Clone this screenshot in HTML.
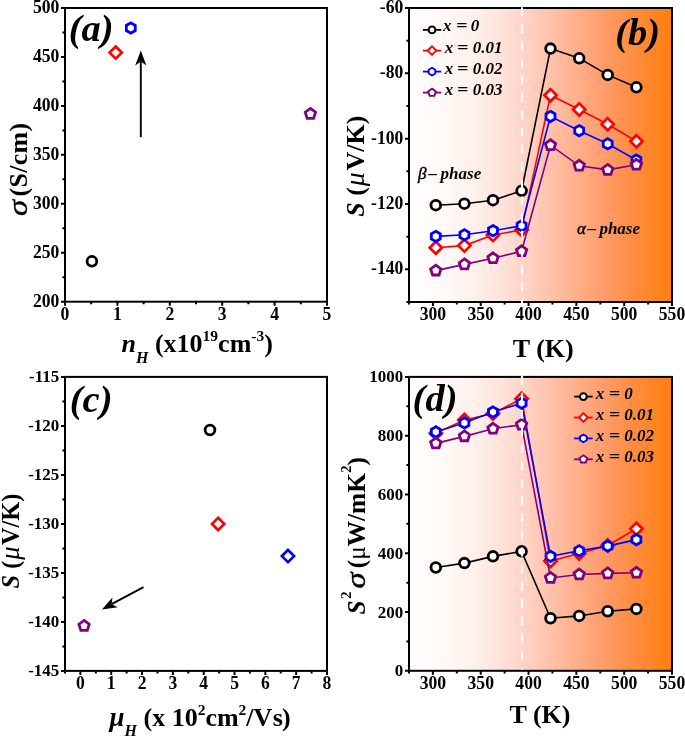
<!DOCTYPE html>
<html lang="en"><head><meta charset="utf-8"><title>Figure</title>
<style>
html,body{margin:0;padding:0;background:#fff;}
svg{display:block;}
text{font-family:"Liberation Serif","DejaVu Serif",serif;font-weight:bold;fill:#000;}
.tk{font-size:17.6px;}
.lab{font-size:26px;}
.it{font-style:italic;}
.pl{font-size:38.5px;font-style:italic;}
.lg{font-size:17px;font-style:italic;}
.ph{font-size:17px;font-style:italic;}
</style></head><body>
<svg width="685" height="737" viewBox="0 0 685 737">
<defs>
<linearGradient id="g" x1="0" y1="0" x2="1" y2="0">
<stop offset="0" stop-color="#ffffff"/>
<stop offset="0.05" stop-color="#fffdfc"/>
<stop offset="0.15" stop-color="#fff8f5"/>
<stop offset="0.25" stop-color="#fff0eb"/>
<stop offset="0.35" stop-color="#ffe3db"/>
<stop offset="0.46" stop-color="#ffd0c1"/>
<stop offset="0.59" stop-color="#ffb89a"/>
<stop offset="0.73" stop-color="#ff9e6e"/>
<stop offset="0.84" stop-color="#ff8e45"/>
<stop offset="0.96" stop-color="#ff821b"/>
<stop offset="1" stop-color="#ff7e0e"/>
</linearGradient>
</defs>
<rect width="685" height="737" fill="#fff"/>
<g id="pa">
<rect x="65" y="8" width="262" height="293.7" fill="none" stroke="#000" stroke-width="2"/>
<path d="M65 301.7v4M117.4 301.7v4M169.8 301.7v4M222.2 301.7v4M274.6 301.7v4M327 301.7v4M91.2 301.7v2.6M143.6 301.7v2.6M196 301.7v2.6M248.4 301.7v2.6M300.8 301.7v2.6" stroke="#000" stroke-width="2" fill="none"/>
<text transform="translate(65,320.1) scale(1,1.04)" text-anchor="middle" class="tk">0</text>
<text transform="translate(117.4,320.1) scale(1,1.04)" text-anchor="middle" class="tk">1</text>
<text transform="translate(169.8,320.1) scale(1,1.04)" text-anchor="middle" class="tk">2</text>
<text transform="translate(222.2,320.1) scale(1,1.04)" text-anchor="middle" class="tk">3</text>
<text transform="translate(274.6,320.1) scale(1,1.04)" text-anchor="middle" class="tk">4</text>
<text transform="translate(327,320.1) scale(1,1.04)" text-anchor="middle" class="tk">5</text>
<path d="M65 301.7h-4M65 252.75h-4M65 203.8h-4M65 154.85h-4M65 105.9h-4M65 56.95h-4M65 8h-4M65 277.22h-2.6M65 228.27h-2.6M65 179.32h-2.6M65 130.38h-2.6M65 81.42h-2.6M65 32.47h-2.6" stroke="#000" stroke-width="2" fill="none"/>
<text transform="translate(59.3,306.7) scale(1,1.04)" text-anchor="end" class="tk">200</text>
<text transform="translate(59.3,257.75) scale(1,1.04)" text-anchor="end" class="tk">250</text>
<text transform="translate(59.3,208.8) scale(1,1.04)" text-anchor="end" class="tk">300</text>
<text transform="translate(59.3,159.85) scale(1,1.04)" text-anchor="end" class="tk">350</text>
<text transform="translate(59.3,110.9) scale(1,1.04)" text-anchor="end" class="tk">400</text>
<text transform="translate(59.3,61.95) scale(1,1.04)" text-anchor="end" class="tk">450</text>
<text transform="translate(59.3,13) scale(1,1.04)" text-anchor="end" class="tk">500</text>
<circle cx="91.9" cy="261.3" r="4.85" fill="none" stroke="#000" stroke-width="2.8"/>
<polygon points="115.7,46.5 121.8,52.6 115.7,58.7 109.6,52.6" fill="none" stroke="#ff0000" stroke-width="2.7" stroke-linejoin="miter"/>
<polygon points="130.8,22.85 135.26,25.43 135.26,30.57 130.8,33.15 126.34,30.58 126.34,25.43" fill="none" stroke="#0000ff" stroke-width="2.8" stroke-linejoin="miter"/>
<polygon points="310.4,108.45 315.58,112.22 313.6,118.31 307.2,118.31 305.22,112.22" fill="none" stroke="#800080" stroke-width="2.8" stroke-linejoin="miter"/>
<line x1="140.8" y1="137.2" x2="140.8" y2="61.5" stroke="#000" stroke-width="1.9"/>
<polygon points="140.8,50.5 146.4,65.5 140.8,61.5 135.2,65.5" fill="#000"/>
<text x="68.8" y="41.3" class="pl">(a)</text>
<text transform="translate(26.9,215.9) rotate(-90) scale(1.2,1)" class="lab it" style="font-weight:normal;font-size:27px" stroke="#000" stroke-width="0.4">σ</text>
<text transform="translate(26.9,215.9) rotate(-90)" class="lab" letter-spacing="0.3"><tspan x="19.4">(S/cm)</tspan></text>
<text x="121.5" y="352.0" class="lab"><tspan class="it">n</tspan><tspan class="it" font-size="16" dy="10.6">H</tspan><tspan dy="-10.6"> (x10</tspan><tspan font-size="15.5" dy="-11">19</tspan><tspan dy="11">cm</tspan><tspan font-size="15.5" dy="-11">-3</tspan><tspan dy="11">)</tspan></text>
</g>
<g id="pb">
<rect x="409" y="8" width="263" height="294" fill="url(#g)" stroke="#000" stroke-width="2"/>
<path d="M432.91 302v4M480.73 302v4M528.55 302v4M576.36 302v4M624.18 302v4M672 302v4M409 302v2.6M456.82 302v2.6M504.64 302v2.6M552.45 302v2.6M600.27 302v2.6M648.09 302v2.6" stroke="#000" stroke-width="2" fill="none"/>
<text transform="translate(432.91,320.4) scale(1,1.04)" text-anchor="middle" class="tk">300</text>
<text transform="translate(480.73,320.4) scale(1,1.04)" text-anchor="middle" class="tk">350</text>
<text transform="translate(528.55,320.4) scale(1,1.04)" text-anchor="middle" class="tk">400</text>
<text transform="translate(576.36,320.4) scale(1,1.04)" text-anchor="middle" class="tk">450</text>
<text transform="translate(624.18,320.4) scale(1,1.04)" text-anchor="middle" class="tk">500</text>
<text transform="translate(672,320.4) scale(1,1.04)" text-anchor="middle" class="tk">550</text>
<path d="M409 269.33h-4M409 204h-4M409 138.67h-4M409 73.33h-4M409 8h-4M409 302h-2.6M409 236.67h-2.6M409 171.33h-2.6M409 106h-2.6M409 40.67h-2.6" stroke="#000" stroke-width="2" fill="none"/>
<text transform="translate(403.3,274.33) scale(1,1.04)" text-anchor="end" class="tk">-140</text>
<text transform="translate(403.3,209) scale(1,1.04)" text-anchor="end" class="tk">-120</text>
<text transform="translate(403.3,143.67) scale(1,1.04)" text-anchor="end" class="tk">-100</text>
<text transform="translate(403.3,78.33) scale(1,1.04)" text-anchor="end" class="tk">-80</text>
<text transform="translate(403.3,13) scale(1,1.04)" text-anchor="end" class="tk">-60</text>
<polyline points="435.8,205.2 464.4,203.7 493,200.2 521.6,190.8 550.5,48.6 579.2,58.3 607.7,74.9 636.4,87.3" fill="none" stroke="#000" stroke-width="1.6"/>
<circle cx="435.8" cy="205.2" r="4.85" fill="#fff" stroke="#000" stroke-width="2.8"/>
<circle cx="464.4" cy="203.7" r="4.85" fill="#fff" stroke="#000" stroke-width="2.8"/>
<circle cx="493" cy="200.2" r="4.85" fill="#fff" stroke="#000" stroke-width="2.8"/>
<circle cx="521.6" cy="190.8" r="4.85" fill="#fff" stroke="#000" stroke-width="2.8"/>
<circle cx="550.5" cy="48.6" r="4.85" fill="#fff" stroke="#000" stroke-width="2.8"/>
<circle cx="579.2" cy="58.3" r="4.85" fill="#fff" stroke="#000" stroke-width="2.8"/>
<circle cx="607.7" cy="74.9" r="4.85" fill="#fff" stroke="#000" stroke-width="2.8"/>
<circle cx="636.4" cy="87.3" r="4.85" fill="#fff" stroke="#000" stroke-width="2.8"/>
<polyline points="435.8,247.7 464.4,245.6 493,235 521.6,229.9 550.5,95.2 579.2,109.5 607.7,124.2 636.4,141.3" fill="none" stroke="#ff0000" stroke-width="1.6"/>
<polygon points="435.8,241.6 441.9,247.7 435.8,253.8 429.7,247.7" fill="#fff" stroke="#ff0000" stroke-width="2.7" stroke-linejoin="miter"/>
<polygon points="464.4,239.5 470.5,245.6 464.4,251.7 458.3,245.6" fill="#fff" stroke="#ff0000" stroke-width="2.7" stroke-linejoin="miter"/>
<polygon points="493,228.9 499.1,235 493,241.1 486.9,235" fill="#fff" stroke="#ff0000" stroke-width="2.7" stroke-linejoin="miter"/>
<polygon points="521.6,223.8 527.7,229.9 521.6,236 515.5,229.9" fill="#fff" stroke="#ff0000" stroke-width="2.7" stroke-linejoin="miter"/>
<polygon points="550.5,89.1 556.6,95.2 550.5,101.3 544.4,95.2" fill="#fff" stroke="#ff0000" stroke-width="2.7" stroke-linejoin="miter"/>
<polygon points="579.2,103.4 585.3,109.5 579.2,115.6 573.1,109.5" fill="#fff" stroke="#ff0000" stroke-width="2.7" stroke-linejoin="miter"/>
<polygon points="607.7,118.1 613.8,124.2 607.7,130.3 601.6,124.2" fill="#fff" stroke="#ff0000" stroke-width="2.7" stroke-linejoin="miter"/>
<polygon points="636.4,135.2 642.5,141.3 636.4,147.4 630.3,141.3" fill="#fff" stroke="#ff0000" stroke-width="2.7" stroke-linejoin="miter"/>
<polyline points="435.8,236.4 464.4,234.8 493,230.7 521.6,225.8 550.5,116.4 579.2,130.7 607.7,143.8 636.4,160" fill="none" stroke="#0000ff" stroke-width="1.6"/>
<polygon points="435.8,231.25 440.26,233.83 440.26,238.97 435.8,241.55 431.34,238.97 431.34,233.83" fill="#fff" stroke="#0000ff" stroke-width="2.8" stroke-linejoin="miter"/>
<polygon points="464.4,229.65 468.86,232.23 468.86,237.38 464.4,239.95 459.94,237.38 459.94,232.23" fill="#fff" stroke="#0000ff" stroke-width="2.8" stroke-linejoin="miter"/>
<polygon points="493,225.55 497.46,228.12 497.46,233.27 493,235.85 488.54,233.27 488.54,228.12" fill="#fff" stroke="#0000ff" stroke-width="2.8" stroke-linejoin="miter"/>
<polygon points="521.6,220.65 526.06,223.23 526.06,228.38 521.6,230.95 517.14,228.38 517.14,223.23" fill="#fff" stroke="#0000ff" stroke-width="2.8" stroke-linejoin="miter"/>
<polygon points="550.5,111.25 554.96,113.83 554.96,118.98 550.5,121.55 546.04,118.98 546.04,113.83" fill="#fff" stroke="#0000ff" stroke-width="2.8" stroke-linejoin="miter"/>
<polygon points="579.2,125.55 583.66,128.12 583.66,133.27 579.2,135.85 574.74,133.27 574.74,128.12" fill="#fff" stroke="#0000ff" stroke-width="2.8" stroke-linejoin="miter"/>
<polygon points="607.7,138.65 612.16,141.23 612.16,146.38 607.7,148.95 603.24,146.38 603.24,141.23" fill="#fff" stroke="#0000ff" stroke-width="2.8" stroke-linejoin="miter"/>
<polygon points="636.4,154.85 640.86,157.43 640.86,162.57 636.4,165.15 631.94,162.57 631.94,157.43" fill="#fff" stroke="#0000ff" stroke-width="2.8" stroke-linejoin="miter"/>
<polyline points="435.8,270.6 464.4,264.4 493,258.3 521.6,251.3 550.5,145.2 579.2,165.8 607.7,169.9 636.4,164.8" fill="none" stroke="#800080" stroke-width="1.6"/>
<polygon points="435.8,265.15 440.98,268.92 439,275.01 432.6,275.01 430.62,268.92" fill="#fff" stroke="#800080" stroke-width="2.8" stroke-linejoin="miter"/>
<polygon points="464.4,258.95 469.58,262.72 467.6,268.81 461.2,268.81 459.22,262.72" fill="#fff" stroke="#800080" stroke-width="2.8" stroke-linejoin="miter"/>
<polygon points="493,252.85 498.18,256.62 496.2,262.71 489.8,262.71 487.82,256.62" fill="#fff" stroke="#800080" stroke-width="2.8" stroke-linejoin="miter"/>
<polygon points="521.6,245.85 526.78,249.62 524.8,255.71 518.4,255.71 516.42,249.62" fill="#fff" stroke="#800080" stroke-width="2.8" stroke-linejoin="miter"/>
<polygon points="550.5,139.75 555.68,143.52 553.7,149.61 547.3,149.61 545.32,143.52" fill="#fff" stroke="#800080" stroke-width="2.8" stroke-linejoin="miter"/>
<polygon points="579.2,160.35 584.38,164.12 582.4,170.21 576,170.21 574.02,164.12" fill="#fff" stroke="#800080" stroke-width="2.8" stroke-linejoin="miter"/>
<polygon points="607.7,164.45 612.88,168.22 610.9,174.31 604.5,174.31 602.52,168.22" fill="#fff" stroke="#800080" stroke-width="2.8" stroke-linejoin="miter"/>
<polygon points="636.4,159.35 641.58,163.12 639.6,169.21 633.2,169.21 631.22,163.12" fill="#fff" stroke="#800080" stroke-width="2.8" stroke-linejoin="miter"/>
<line x1="522" y1="7.2" x2="522" y2="303.2" stroke="#fff" stroke-width="2.1" stroke-dasharray="8.8 8.4"/>
<line x1="422.9" y1="29.9" x2="441.3" y2="29.9" stroke="#000" stroke-width="1.8"/>
<circle cx="432" cy="29.9" r="3.4" fill="#fff" stroke="#000" stroke-width="2"/>
<text y="30.9" class="lg"><tspan x="443">x</tspan><tspan x="456" textLength="11.4" lengthAdjust="spacingAndGlyphs">=</tspan><tspan x="470.7">0</tspan></text>
<line x1="422.9" y1="50.6" x2="441.3" y2="50.6" stroke="#ff0000" stroke-width="1.8"/>
<polygon points="432,46.3 436.3,50.6 432,54.9 427.7,50.6" fill="#fff" stroke="#ff0000" stroke-width="1.9" stroke-linejoin="miter"/>
<text y="53.4" class="lg"><tspan x="444.8">x</tspan><tspan x="456.9" textLength="11.4" lengthAdjust="spacingAndGlyphs">=</tspan><tspan x="472.8">0.01</tspan></text>
<line x1="422.9" y1="71.6" x2="441.3" y2="71.6" stroke="#0000ff" stroke-width="1.8"/>
<polygon points="432,67.8 435.29,69.7 435.29,73.5 432,75.4 428.71,73.5 428.71,69.7" fill="#fff" stroke="#0000ff" stroke-width="1.9" stroke-linejoin="miter"/>
<text y="74.4" class="lg"><tspan x="444.8">x</tspan><tspan x="456.9" textLength="11.4" lengthAdjust="spacingAndGlyphs">=</tspan><tspan x="472.8">0.02</tspan></text>
<line x1="422.9" y1="92.6" x2="441.3" y2="92.6" stroke="#800080" stroke-width="1.8"/>
<polygon points="432,88.6 435.8,91.36 434.35,95.84 429.65,95.84 428.2,91.36" fill="#fff" stroke="#800080" stroke-width="1.9" stroke-linejoin="miter"/>
<text y="95.3" class="lg"><tspan x="444.8">x</tspan><tspan x="456.9" textLength="11.4" lengthAdjust="spacingAndGlyphs">=</tspan><tspan x="472.8">0.03</tspan></text>
<text x="615.3" y="44.9" class="pl">(b)</text>
<text y="179.4" class="ph"><tspan x="418" font-weight="normal" stroke="#000" stroke-width="0.45">β</tspan><tspan x="428.6">–</tspan><tspan x="440.6">phase</tspan></text>
<text y="234.0" class="ph"><tspan x="577" font-weight="normal" stroke="#000" stroke-width="0.45">α</tspan><tspan x="587.6">–</tspan><tspan x="599.4">phase</tspan></text>
<text transform="translate(364.0,216.8) rotate(-90)" class="lab"><tspan class="it" x="0">S</tspan><tspan x="21">(</tspan><tspan class="it" font-weight="normal" font-size="28" x="30.6">μ</tspan><tspan x="46.4">V/K)</tspan></text>
<text x="543.3" y="356.8" text-anchor="middle" class="lab">T (K)</text>
</g>
<g id="pc">
<rect x="65" y="376.9" width="262" height="294" fill="none" stroke="#000" stroke-width="2"/>
<path d="M80.41 670.9v4M111.24 670.9v4M142.06 670.9v4M172.88 670.9v4M203.71 670.9v4M234.53 670.9v4M265.35 670.9v4M296.18 670.9v4M327 670.9v4M65 670.9v2.6M95.82 670.9v2.6M126.65 670.9v2.6M157.47 670.9v2.6M188.29 670.9v2.6M219.12 670.9v2.6M249.94 670.9v2.6M280.76 670.9v2.6M311.59 670.9v2.6" stroke="#000" stroke-width="2" fill="none"/>
<text transform="translate(80.41,689.3) scale(1,1.04)" text-anchor="middle" class="tk">0</text>
<text transform="translate(111.24,689.3) scale(1,1.04)" text-anchor="middle" class="tk">1</text>
<text transform="translate(142.06,689.3) scale(1,1.04)" text-anchor="middle" class="tk">2</text>
<text transform="translate(172.88,689.3) scale(1,1.04)" text-anchor="middle" class="tk">3</text>
<text transform="translate(203.71,689.3) scale(1,1.04)" text-anchor="middle" class="tk">4</text>
<text transform="translate(234.53,689.3) scale(1,1.04)" text-anchor="middle" class="tk">5</text>
<text transform="translate(265.35,689.3) scale(1,1.04)" text-anchor="middle" class="tk">6</text>
<text transform="translate(296.18,689.3) scale(1,1.04)" text-anchor="middle" class="tk">7</text>
<text transform="translate(327,689.3) scale(1,1.04)" text-anchor="middle" class="tk">8</text>
<path d="M65 670.9h-4M65 621.9h-4M65 572.9h-4M65 523.9h-4M65 474.9h-4M65 425.9h-4M65 376.9h-4M65 646.4h-2.6M65 597.4h-2.6M65 548.4h-2.6M65 499.4h-2.6M65 450.4h-2.6M65 401.4h-2.6" stroke="#000" stroke-width="2" fill="none"/>
<text transform="translate(59.3,676.2) scale(1,1.04)" text-anchor="end" class="tk" style="font-size:17px">-145</text>
<text transform="translate(59.3,627.2) scale(1,1.04)" text-anchor="end" class="tk" style="font-size:17px">-140</text>
<text transform="translate(59.3,578.2) scale(1,1.04)" text-anchor="end" class="tk" style="font-size:17px">-135</text>
<text transform="translate(59.3,529.2) scale(1,1.04)" text-anchor="end" class="tk" style="font-size:17px">-130</text>
<text transform="translate(59.3,480.2) scale(1,1.04)" text-anchor="end" class="tk" style="font-size:17px">-125</text>
<text transform="translate(59.3,431.2) scale(1,1.04)" text-anchor="end" class="tk" style="font-size:17px">-120</text>
<text transform="translate(59.3,382.2) scale(1,1.04)" text-anchor="end" class="tk" style="font-size:17px">-115</text>
<circle cx="210" cy="430" r="4.85" fill="none" stroke="#000" stroke-width="2.8"/>
<polygon points="218.1,517.8 224.2,523.9 218.1,530 212,523.9" fill="none" stroke="#ff0000" stroke-width="2.7" stroke-linejoin="miter"/>
<polygon points="288,550 294.1,556.1 288,562.2 281.9,556.1" fill="none" stroke="#0000ff" stroke-width="2.7" stroke-linejoin="miter"/>
<polygon points="84.1,620.45 89.28,624.22 87.3,630.31 80.9,630.31 78.92,624.22" fill="none" stroke="#800080" stroke-width="2.8" stroke-linejoin="miter"/>
<line x1="143.5" y1="587.1" x2="111.59" y2="604.2" stroke="#000" stroke-width="1.9"/>
<polygon points="101.9,609.4 112.47,597.38 111.59,604.2 117.77,607.25" fill="#000"/>
<text x="69.8" y="412.3" class="pl">(c)</text>
<text transform="translate(19.2,588.4) rotate(-90)" class="lab" style="font-size:24.3px"><tspan class="it" x="0">S</tspan><tspan x="19.7">(</tspan><tspan class="it" font-weight="normal" font-size="26.5" x="28.6">μ</tspan><tspan x="43.4">V/K)</tspan></text>
<text x="109.5" y="725.7" class="lab"><tspan class="it" font-size="27">μ</tspan><tspan class="it" font-size="16" dy="10.2">H</tspan><tspan dy="-10.2"> (x 10</tspan><tspan font-size="15.5" dy="-11">2</tspan><tspan dy="11">cm</tspan><tspan font-size="15.5" dy="-11">2</tspan><tspan dy="11">/V</tspan><tspan dx="0.5">s</tspan><tspan dx="-1">)</tspan></text>
</g>
<g id="pd">
<rect x="409" y="376.9" width="263" height="293.9" fill="url(#g)" stroke="#000" stroke-width="2"/>
<path d="M432.91 670.8v4M480.73 670.8v4M528.55 670.8v4M576.36 670.8v4M624.18 670.8v4M672 670.8v4M409 670.8v2.6M456.82 670.8v2.6M504.64 670.8v2.6M552.45 670.8v2.6M600.27 670.8v2.6M648.09 670.8v2.6" stroke="#000" stroke-width="2" fill="none"/>
<text transform="translate(432.91,689.2) scale(1,1.04)" text-anchor="middle" class="tk">300</text>
<text transform="translate(480.73,689.2) scale(1,1.04)" text-anchor="middle" class="tk">350</text>
<text transform="translate(528.55,689.2) scale(1,1.04)" text-anchor="middle" class="tk">400</text>
<text transform="translate(576.36,689.2) scale(1,1.04)" text-anchor="middle" class="tk">450</text>
<text transform="translate(624.18,689.2) scale(1,1.04)" text-anchor="middle" class="tk">500</text>
<text transform="translate(672,689.2) scale(1,1.04)" text-anchor="middle" class="tk">550</text>
<path d="M409 670.8h-4M409 612.02h-4M409 553.24h-4M409 494.46h-4M409 435.68h-4M409 376.9h-4M409 641.41h-2.6M409 582.63h-2.6M409 523.85h-2.6M409 465.07h-2.6M409 406.29h-2.6" stroke="#000" stroke-width="2" fill="none"/>
<text transform="translate(403.3,676.3) scale(1,1.04)" text-anchor="end" class="tk" style="font-size:17px">0</text>
<text transform="translate(403.3,617.52) scale(1,1.04)" text-anchor="end" class="tk" style="font-size:17px">200</text>
<text transform="translate(403.3,558.74) scale(1,1.04)" text-anchor="end" class="tk" style="font-size:17px">400</text>
<text transform="translate(403.3,499.96) scale(1,1.04)" text-anchor="end" class="tk" style="font-size:17px">600</text>
<text transform="translate(403.3,441.18) scale(1,1.04)" text-anchor="end" class="tk" style="font-size:17px">800</text>
<text transform="translate(403.3,382.4) scale(1,1.04)" text-anchor="end" class="tk" style="font-size:17px">1000</text>
<polyline points="435.8,567.51 464.4,563.11 493,556.36 521.6,551.37 550.5,618.27 579.2,615.92 607.7,611.23 636.4,608.88" fill="none" stroke="#000" stroke-width="1.6"/>
<circle cx="435.8" cy="567.51" r="4.85" fill="#fff" stroke="#000" stroke-width="2.8"/>
<circle cx="464.4" cy="563.11" r="4.85" fill="#fff" stroke="#000" stroke-width="2.8"/>
<circle cx="493" cy="556.36" r="4.85" fill="#fff" stroke="#000" stroke-width="2.8"/>
<circle cx="521.6" cy="551.37" r="4.85" fill="#fff" stroke="#000" stroke-width="2.8"/>
<circle cx="550.5" cy="618.27" r="4.85" fill="#fff" stroke="#000" stroke-width="2.8"/>
<circle cx="579.2" cy="615.92" r="4.85" fill="#fff" stroke="#000" stroke-width="2.8"/>
<circle cx="607.7" cy="611.23" r="4.85" fill="#fff" stroke="#000" stroke-width="2.8"/>
<circle cx="636.4" cy="608.88" r="4.85" fill="#fff" stroke="#000" stroke-width="2.8"/>
<polyline points="435.8,433.13 464.4,419.93 493,413.48 521.6,398.81 550.5,561.06 579.2,553.43 607.7,545.51 636.4,528.78" fill="none" stroke="#ff0000" stroke-width="1.6"/>
<polygon points="435.8,427.03 441.9,433.13 435.8,439.23 429.7,433.13" fill="#fff" stroke="#ff0000" stroke-width="2.7" stroke-linejoin="miter"/>
<polygon points="464.4,413.83 470.5,419.93 464.4,426.03 458.3,419.93" fill="#fff" stroke="#ff0000" stroke-width="2.7" stroke-linejoin="miter"/>
<polygon points="493,407.38 499.1,413.48 493,419.58 486.9,413.48" fill="#fff" stroke="#ff0000" stroke-width="2.7" stroke-linejoin="miter"/>
<polygon points="521.6,392.71 527.7,398.81 521.6,404.91 515.5,398.81" fill="#fff" stroke="#ff0000" stroke-width="2.7" stroke-linejoin="miter"/>
<polygon points="550.5,554.96 556.6,561.06 550.5,567.16 544.4,561.06" fill="#fff" stroke="#ff0000" stroke-width="2.7" stroke-linejoin="miter"/>
<polygon points="579.2,547.33 585.3,553.43 579.2,559.53 573.1,553.43" fill="#fff" stroke="#ff0000" stroke-width="2.7" stroke-linejoin="miter"/>
<polygon points="607.7,539.41 613.8,545.51 607.7,551.61 601.6,545.51" fill="#fff" stroke="#ff0000" stroke-width="2.7" stroke-linejoin="miter"/>
<polygon points="636.4,522.68 642.5,528.78 636.4,534.88 630.3,528.78" fill="#fff" stroke="#ff0000" stroke-width="2.7" stroke-linejoin="miter"/>
<polyline points="435.8,431.96 464.4,422.86 493,412.01 521.6,403.21 550.5,556.36 579.2,550.79 607.7,546.09 636.4,539.64" fill="none" stroke="#0000ff" stroke-width="1.6"/>
<polygon points="435.8,426.81 440.26,429.38 440.26,434.53 435.8,437.11 431.34,434.53 431.34,429.38" fill="#fff" stroke="#0000ff" stroke-width="2.8" stroke-linejoin="miter"/>
<polygon points="464.4,417.71 468.86,420.29 468.86,425.44 464.4,428.01 459.94,425.44 459.94,420.29" fill="#fff" stroke="#0000ff" stroke-width="2.8" stroke-linejoin="miter"/>
<polygon points="493,406.86 497.46,409.43 497.46,414.58 493,417.16 488.54,414.58 488.54,409.43" fill="#fff" stroke="#0000ff" stroke-width="2.8" stroke-linejoin="miter"/>
<polygon points="521.6,398.06 526.06,400.63 526.06,405.78 521.6,408.36 517.14,405.78 517.14,400.63" fill="#fff" stroke="#0000ff" stroke-width="2.8" stroke-linejoin="miter"/>
<polygon points="550.5,551.21 554.96,553.79 554.96,558.94 550.5,561.51 546.04,558.94 546.04,553.79" fill="#fff" stroke="#0000ff" stroke-width="2.8" stroke-linejoin="miter"/>
<polygon points="579.2,545.64 583.66,548.21 583.66,553.36 579.2,555.94 574.74,553.36 574.74,548.21" fill="#fff" stroke="#0000ff" stroke-width="2.8" stroke-linejoin="miter"/>
<polygon points="607.7,540.94 612.16,543.52 612.16,548.67 607.7,551.24 603.24,548.67 603.24,543.52" fill="#fff" stroke="#0000ff" stroke-width="2.8" stroke-linejoin="miter"/>
<polygon points="636.4,534.49 640.86,537.06 640.86,542.21 636.4,544.79 631.94,542.21 631.94,537.06" fill="#fff" stroke="#0000ff" stroke-width="2.8" stroke-linejoin="miter"/>
<polyline points="435.8,443.4 464.4,436.36 493,428.73 521.6,424.62 550.5,577.93 579.2,574.55 607.7,573.38 636.4,572.79" fill="none" stroke="#800080" stroke-width="1.6"/>
<polygon points="435.8,437.95 440.98,441.72 439,447.81 432.6,447.81 430.62,441.72" fill="#fff" stroke="#800080" stroke-width="2.8" stroke-linejoin="miter"/>
<polygon points="464.4,430.91 469.58,434.68 467.6,440.77 461.2,440.77 459.22,434.68" fill="#fff" stroke="#800080" stroke-width="2.8" stroke-linejoin="miter"/>
<polygon points="493,423.28 498.18,427.05 496.2,433.14 489.8,433.14 487.82,427.05" fill="#fff" stroke="#800080" stroke-width="2.8" stroke-linejoin="miter"/>
<polygon points="521.6,419.17 526.78,422.94 524.8,429.03 518.4,429.03 516.42,422.94" fill="#fff" stroke="#800080" stroke-width="2.8" stroke-linejoin="miter"/>
<polygon points="550.5,572.48 555.68,576.24 553.7,582.33 547.3,582.33 545.32,576.24" fill="#fff" stroke="#800080" stroke-width="2.8" stroke-linejoin="miter"/>
<polygon points="579.2,569.1 584.38,572.87 582.4,578.96 576,578.96 574.02,572.87" fill="#fff" stroke="#800080" stroke-width="2.8" stroke-linejoin="miter"/>
<polygon points="607.7,567.93 612.88,571.69 610.9,577.79 604.5,577.79 602.52,571.69" fill="#fff" stroke="#800080" stroke-width="2.8" stroke-linejoin="miter"/>
<polygon points="636.4,567.34 641.58,571.11 639.6,577.2 633.2,577.2 631.22,571.11" fill="#fff" stroke="#800080" stroke-width="2.8" stroke-linejoin="miter"/>
<line x1="522" y1="375.6" x2="522" y2="669.8" stroke="#fff" stroke-width="2.1" stroke-dasharray="8.8 8.4"/>
<line x1="574.1" y1="396.6" x2="592.7" y2="396.6" stroke="#000" stroke-width="1.8"/>
<circle cx="583.4" cy="396.6" r="3.4" fill="#fff" stroke="#000" stroke-width="2"/>
<text y="398.5" class="lg"><tspan x="595.7">x</tspan><tspan x="608.7" textLength="11.4" lengthAdjust="spacingAndGlyphs">=</tspan><tspan x="624.2">0</tspan></text>
<line x1="574.1" y1="417.5" x2="592.7" y2="417.5" stroke="#ff0000" stroke-width="1.8"/>
<polygon points="583.4,413.2 587.7,417.5 583.4,421.8 579.1,417.5" fill="#fff" stroke="#ff0000" stroke-width="1.9" stroke-linejoin="miter"/>
<text y="419.9" class="lg"><tspan x="595.7">x</tspan><tspan x="608.7" textLength="11.4" lengthAdjust="spacingAndGlyphs">=</tspan><tspan x="624.2">0.01</tspan></text>
<line x1="574.1" y1="438.4" x2="592.7" y2="438.4" stroke="#0000ff" stroke-width="1.8"/>
<polygon points="583.4,434.6 586.69,436.5 586.69,440.3 583.4,442.2 580.11,440.3 580.11,436.5" fill="#fff" stroke="#0000ff" stroke-width="1.9" stroke-linejoin="miter"/>
<text y="440.9" class="lg"><tspan x="595.7">x</tspan><tspan x="608.7" textLength="11.4" lengthAdjust="spacingAndGlyphs">=</tspan><tspan x="624.2">0.02</tspan></text>
<line x1="574.1" y1="459.3" x2="592.7" y2="459.3" stroke="#800080" stroke-width="1.8"/>
<polygon points="583.4,455.3 587.2,458.06 585.75,462.54 581.05,462.54 579.6,458.06" fill="#fff" stroke="#800080" stroke-width="1.9" stroke-linejoin="miter"/>
<text y="461.9" class="lg"><tspan x="595.7">x</tspan><tspan x="608.7" textLength="11.4" lengthAdjust="spacingAndGlyphs">=</tspan><tspan x="624.2">0.03</tspan></text>
<text x="412.6" y="411.4" class="pl">(d)</text>
<text transform="translate(365.2,614.4) rotate(-90)" class="lab" style="font-size:25.3px"><tspan class="it" x="0">S</tspan><tspan font-size="14.5" x="15.6" dy="-13.8">2</tspan><tspan x="46.2" dy="13.8">(</tspan><tspan font-weight="normal">μ</tspan><tspan>W/mK</tspan><tspan font-size="14.5" dy="-13.8" dx="0.3">2</tspan><tspan dy="13.8" dx="0.2">)</tspan></text>
<text transform="translate(365.2,614.4) rotate(-90) scale(1.2,1)" class="lab it" style="font-weight:normal;font-size:27px" stroke="#000" stroke-width="0.4" x="21.6">σ</text>
<text x="540.0" y="722.8" text-anchor="middle" class="lab">T (K)</text>
</g>
</svg>
</body></html>
